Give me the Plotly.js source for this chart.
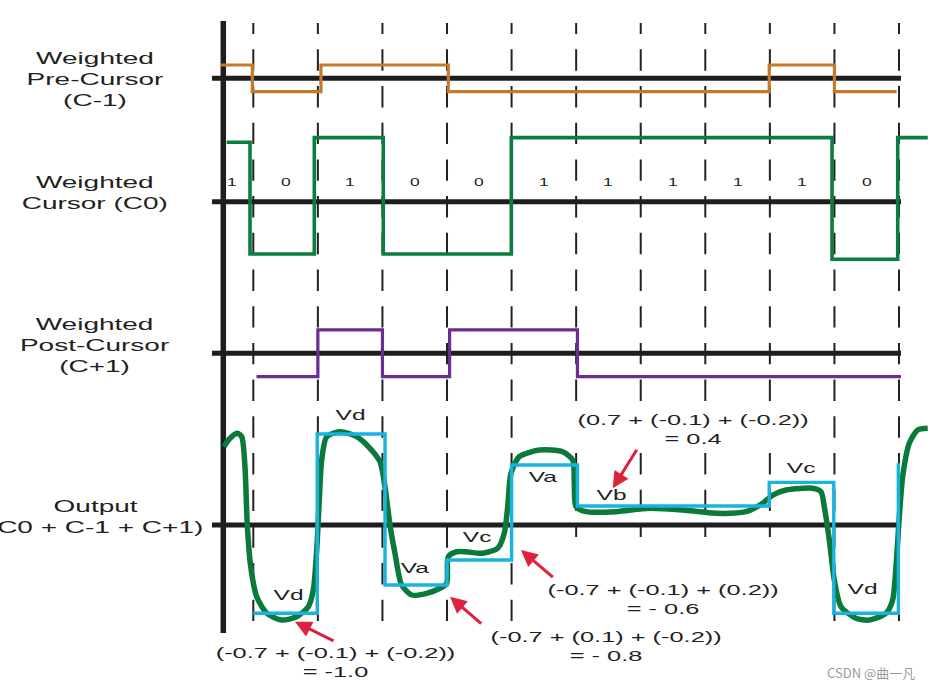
<!DOCTYPE html>
<html><head><meta charset="utf-8">
<script src="https://cdn.plot.ly/plotly-3.0.1.min.js"></script>
<style>
html,body{margin:0;padding:0;background:#fff;overflow:hidden;}
#chart{width:936px;height:688px;}
</style>
</head><body><div id="chart"></div>
<script>
// ---------------- data (x in bit periods, 0 = first dashed boundary) ----------------
const bitLabels  = ['1','0','1','0','0','1','1','1','1','1','0'];
const bitCenters = [-0.33,0.5,1.5,2.5,3.5,4.5,5.5,6.5,7.5,8.5,9.5];
const boundaries = [0,1,2,3,4,5,6,7,8,9,10];
const boundaryShort = [false,false,false,false,false,true,true,true,true,false,false];

// Weighted pre-cursor (C-1), step starts
const preX = [-0.5,-0.015,1.048,3.02,7.99,9.0,9.964];
const preY = [0.1,-0.1,0.1,-0.1,0.1,-0.1,-0.1];
// Weighted cursor (C0)
const curX = [-0.412,-0.051,0.945,2.013,3.996,8.963,9.98,10.445];
const curY = [0.646,-0.568,0.696,-0.568,0.696,-0.626,0.696,0.696];
// Weighted post-cursor (C+1)
const postX = [0.05,1.0,2.0,3.04,5.02,10.03];
const postY = [-0.2,0.2,-0.2,0.2,-0.2,-0.2];
// Output ideal step (drawn levels)
const stepX = [0,0.99,2.04,3.0,4.0,5.02,7.99,8.99,9.99];
const stepY = [-0.981,1.011,-0.667,-0.389,0.667,0.211,0.474,-0.981,0.686];
// Output analog waveform
const outX = [-0.454,-0.361,-0.248,-0.180,-0.129,-0.093,-0.040,0.053,0.208,0.440,0.672,0.852,0.929,0.982,1.022,1.059,1.137,1.343,1.601,1.807,1.962,2.039,2.117,2.194,2.298,2.453,2.685,2.891,2.995,3.020,3.150,3.294,3.553,3.785,3.887,3.940,3.991,4.120,4.429,4.792,4.947,4.971,4.998,5.153,5.617,6.133,6.650,7.166,7.630,7.889,8.044,8.250,8.663,8.792,8.843,8.921,8.998,9.102,9.334,9.540,9.799,9.902,9.953,10.005,10.057,10.159,10.290,10.445];
const outY = [0.870,0.963,1.019,0.981,0.648,0,-0.463,-0.797,-0.981,-1.056,-1.019,-0.908,-0.722,-0.278,0.278,0.722,0.981,1.037,0.981,0.852,0.703,0.426,0,-0.314,-0.667,-0.778,-0.759,-0.703,-0.648,-0.352,-0.297,-0.297,-0.314,-0.259,-0.092,0.203,0.574,0.759,0.833,0.814,0.722,0.463,0.203,0.148,0.148,0.186,0.167,0.130,0.148,0.241,0.333,0.389,0.408,0.370,0.203,-0.167,-0.611,-0.908,-1.037,-1.056,-0.981,-0.833,-0.463,0.092,0.537,0.908,1.056,1.074];

const rowLabels = ['Weighted<br>Pre-Cursor<br>(C-1)','Weighted<br>Cursor (C0)','Weighted<br>Post-Cursor<br>(C+1)','Output<br>(C0 + C-1 + C+1)'];
const levelLabels = ['Vd','Vd','Va','Vc','Va','Vb','Vc','Vd'];
const formulaLabels = ['(0.7 + (-0.1) + (-0.2))<br>= 0.4','(-0.7 + (-0.1) + (0.2))<br>= - 0.6','(-0.7 + (0.1) + (-0.2))<br>= - 0.8','(-0.7 + (-0.1) + (-0.2))<br>= -1.0'];
const watermark = 'CSDN @曲一凡';

// ---------------- layout helpers ----------------
const W = 936, H = 688;
const X0PX = 253.3, XPX = 64.57;                 // pixel of x=0, pixels per bit
const xRange = [-X0PX / XPX, (W - X0PX) / XPX];
function yRange(p0, s) { return [-(H - p0) / s, p0 / s]; }  // baseline pixel, px per unit
function px(p) { return p / W; }
function py(p) { return 1 - p / H; }

const FONT = 'Liberation Sans, Arial, sans-serif';
const INK = '#231f20';

const traces = [
  {x: preX, y: preY, yaxis: 'y4', mode: 'lines', line: {shape: 'hv', color: '#c47a2c', width: 3.2}},
  {x: curX, y: curY, yaxis: 'y3', mode: 'lines', line: {shape: 'hv', color: '#0b7d3e', width: 3.6}},
  {x: postX, y: postY, yaxis: 'y2', mode: 'lines', line: {shape: 'hv', color: '#6a2e92', width: 3.2}},
  {x: outX, y: outY, yaxis: 'y', mode: 'lines', line: {shape: 'spline', smoothing: 0.7, color: '#0a7a3a', width: 5.5}},
  {x: stepX, y: stepY, yaxis: 'y', mode: 'lines', line: {shape: 'hv', color: '#1ab3e0', width: 3.4}}
];

const shapes = [];
// dashed bit boundaries
const dashPattern = '11px,15.3px,' + Array(22).fill('21.4px,15.3px').join(',');
boundaries.forEach((b, i) => {
  shapes.push({type: 'line', xref: 'x', yref: 'paper', x0: b, x1: b, y0: py(23), y1: py(boundaryShort[i] ? 537 : 621),
    line: {color: '#222', width: 2, dash: dashPattern}, layer: 'below'});
});
// white backing behind the upper formula (hides the dashed lines there)
shapes.push({type: 'rect', xref: 'paper', yref: 'paper', x0: px(571), x1: px(814), y0: py(447), y1: py(411),
  line: {width: 0}, fillcolor: '#fff', layer: 'below'});
// baselines
['y4', 'y3', 'y2', 'y'].forEach(a => {
  shapes.push({type: 'line', xref: 'x', yref: a, x0: (212 - X0PX) / XPX, x1: (901 - X0PX) / XPX, y0: 0, y1: 0,
    line: {color: '#1e1e1e', width: 5}, layer: 'below'});
});
// vertical axis
shapes.push({type: 'line', xref: 'x', yref: 'paper', x0: (223.3 - X0PX) / XPX, x1: (223.3 - X0PX) / XPX, y0: py(21), y1: py(633),
  line: {color: '#1e1e1e', width: 5.5}, layer: 'below'});

function txt(text, x, y, size, extra) {
  return Object.assign({text: text, x: px(x), y: py(y), xref: 'paper', yref: 'paper', showarrow: false,
    xanchor: 'center', yanchor: 'middle', font: {family: FONT, size: size, color: INK}}, extra || {});
}

const annotations = [];
const rowPos = [[95, 80], [95, 193], [95, 345], [95, 516.5]];
rowLabels.forEach((t, i) => annotations.push(txt(t, rowPos[i][0], rowPos[i][1], 16)));

bitLabels.forEach((t, i) => annotations.push({text: t, x: bitCenters[i], y: 0.207, xref: 'x', yref: 'y3', showarrow: false,
  xanchor: 'center', yanchor: 'middle', font: {family: FONT, size: 10, color: INK}}));

const levelPos = [[350, 414.5], [288.3, 595], [415, 568.3], [477, 537], [542.7, 477.3], [611, 495], [801, 468.3], [862.7, 589.3]];
levelLabels.forEach((t, i) => annotations.push(txt(t, levelPos[i][0], levelPos[i][1], 14)));

const formulaPos = [[692.5, 429.5], [662.7, 599.5], [606, 646.5], [335.8, 662.5]];
formulaLabels.forEach((t, i) => annotations.push(txt(t, formulaPos[i][0], formulaPos[i][1], 14.5)));

// red arrows: head (px), tail offset (px)
const arrows = [[295, 621.7, 40, 20], [450, 596.7, 32.7, 28.3], [521, 550, 33.3, 28.3], [612.7, 488.3, 25, -40]];
arrows.forEach(a => annotations.push({text: '', x: px(a[0]), y: py(a[1]), xref: 'paper', yref: 'paper', showarrow: true,
  ax: a[2], ay: a[3], arrowhead: 2, arrowsize: 1.1, arrowwidth: 3, arrowcolor: '#e0213e', standoff: 0}));

annotations.push(txt(watermark, 871, 672, 13, {font: {family: 'Noto Sans CJK SC, sans-serif', size: 13, color: '#9a9a9a'}}));

const layout = {
  width: W, height: H,
  margin: {l: 0, r: 0, t: 0, b: 0, pad: 0},
  paper_bgcolor: '#fff', plot_bgcolor: '#fff',
  showlegend: false,
  xaxis: {range: xRange, visible: false, fixedrange: true},
  yaxis: {range: yRange(525, 90), visible: false, fixedrange: true},
  yaxis2: {range: yRange(353.3, 117), visible: false, overlaying: 'y', fixedrange: true},
  yaxis3: {range: yRange(201.7, 92), visible: false, overlaying: 'y', fixedrange: true},
  yaxis4: {range: yRange(78.3, 133), visible: false, overlaying: 'y', fixedrange: true},
  shapes: shapes,
  annotations: annotations
};

Plotly.newPlot('chart', traces, layout, {staticPlot: true, displayModeBar: false}).then(() => {
  document.querySelectorAll('g.annotation text.annotation-text').forEach(t => {
    if (t.textContent.indexOf('CSDN') >= 0) return;
    t.style.transformBox = 'fill-box';
    t.style.transformOrigin = 'center';
    t.style.transform = 'scaleX(1.75)';
  });
});
</script>
</body></html>
